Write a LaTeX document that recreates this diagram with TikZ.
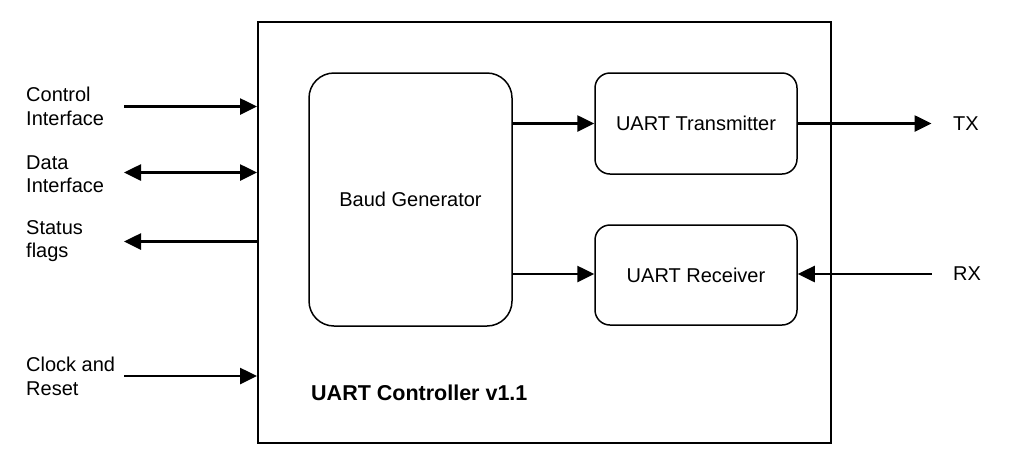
\documentclass[tikz,border=0pt]{standalone}
\usepackage{fontspec}
\setmainfont{Liberation Sans}
\usetikzlibrary{arrows.meta}

\tikzset{sigtip/.tip={Triangle[length=17pt, width=16pt]}}

\begin{document}
\begin{tikzpicture}[x=1pt, y=-1pt, font=\fontsize{20}{23.5}\selectfont,
  blk/.style={draw, line width=1.5pt, rounded corners=15pt, align=center, inner sep=0pt},
  sig/.style={line width=2.6pt, -sigtip},
  lbl/.style={anchor=west, align=left, inner sep=0pt}]
  \useasboundingbox (0,0) rectangle (1024,451);

  % controller frame and inner blocks
  \node[draw, line width=2pt, minimum width=573pt, minimum height=421pt, inner sep=0pt]
    (ctrl) at (544.5,232.5) {};
  \node[blk, rounded corners=25pt, minimum width=203pt, minimum height=253pt]
    (baud) at (410.5,199.5) {Baud Generator};
  \node[blk, minimum width=202pt, minimum height=101pt]
    (tx) at (696,123.5) {UART Transmitter};
  \node[blk, minimum width=202pt, minimum height=100pt]
    (rx) at (696,275) {UART Receiver};
  \node[anchor=west, inner sep=0pt, font=\fontsize{21.5}{24}\selectfont\bfseries]
    (title) at (311,393) {UART Controller v1.1};

  % outside signals
  \node[lbl] (ctlbl) at (26,106.5) {Control\\Interface};
  \node[lbl] (dtlbl) at (26,174) {Data\\Interface};
  \node[lbl] (stlbl) at (26,241) {Status\\flags};
  \node[lbl] (cklbl) at (26,376.5) {Clock and\\Reset};
  \node[lbl] (txlbl) at (953,123.5) {TX};
  \node[lbl] (rxlbl) at (953,274) {RX};

  \foreach \n/\y in {ci/106.5, di/172.5, sf/241.5, cr/376}
    \coordinate (\n) at (124,\y);
  \coordinate (txend) at (931.5,123.5);
  \coordinate (rxend) at (931.5,274);

  \draw[sig] (ci) -- (ci -| ctrl.west);
  \draw[sig, sigtip-sigtip] (di) -- (di -| ctrl.west);
  \draw[sig] (sf -| ctrl.west) -- (sf);
  \draw[sig] (cr) -- (cr -| ctrl.west);

  \draw[sig] (baud.east |- tx.west) -- (tx.west);
  \draw[sig] (baud.east |- rxend) -- (rx.west |- rxend);
  \draw[sig] (tx.east) -- (txend);
  \draw[sig] (rxend) -- (rx.east |- rxend);
\end{tikzpicture}
\end{document}
